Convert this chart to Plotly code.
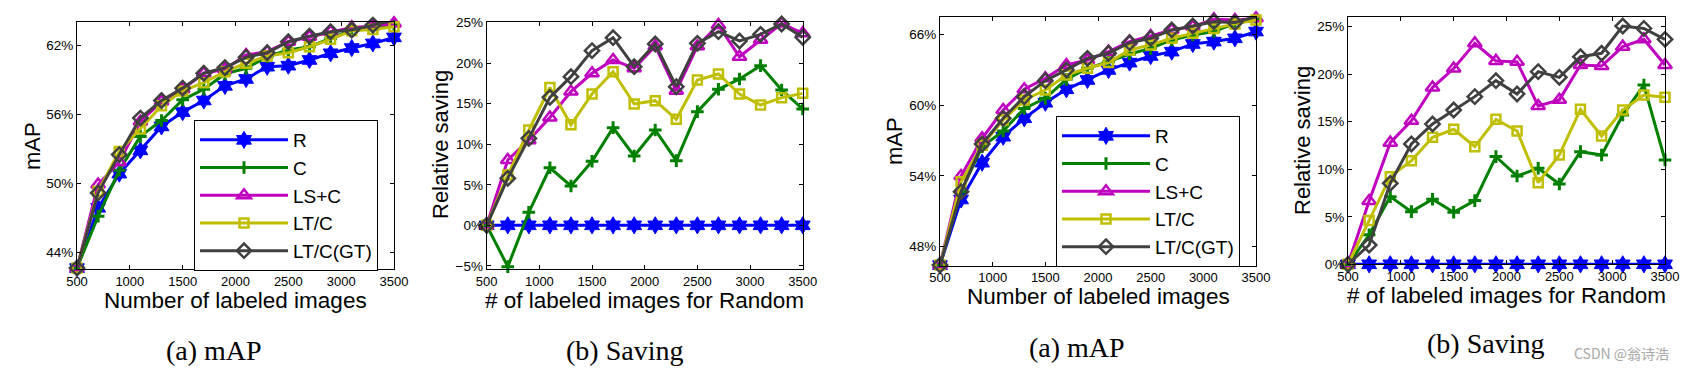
import plotly.graph_objects as go

# ---------------- data ----------------
x_images = [500, 700, 900, 1100, 1300, 1500, 1700, 1900, 2100, 2300, 2500, 2700, 2900, 3100, 3300, 3500]
series_names = ["R", "C", "LS+C", "LT/C", "LT/C(GT)"]

# left pair: mAP (%)
map1_R = [42.6, 47.86, 50.84, 52.87, 54.96, 56.21, 57.22, 58.5, 59.1, 60.17, 60.26, 60.76, 61.34, 61.8, 62.2, 62.73]
map1_C = [42.6, 47.13, 51.13, 54.09, 55.48, 57.28, 58.2, 59.54, 60.03, 61.04, 61.63, 61.91, 62.64, 63.37, 63.51, 63.8]
map1_LS = [42.6, 49.89, 51.86, 55.39, 57.13, 58.2, 59.6, 59.95, 61.19, 61.48, 62.35, 62.78, 63.22, 63.6, 63.71, 63.95]
map1_LT = [42.6, 49.3, 52.78, 54.73, 56.76, 58.06, 58.78, 59.74, 60.47, 61.1, 61.39, 61.91, 62.56, 63.3, 63.42, 63.65]
map1_GT = [42.6, 49.16, 52.5, 55.69, 57.22, 58.3, 59.6, 60.09, 60.99, 61.39, 62.35, 62.84, 63.22, 63.37, 63.8, 64.23]

# left pair: relative saving (%)
save1_R = [0, 0, 0, 0, 0, 0, 0, 0, 0, 0, 0, 0, 0, 0, 0, 0]
save1_C = [0, -5.1, 1.6, 7.1, 4.85, 7.9, 12.05, 8.55, 11.76, 7.98, 14.02, 16.78, 18.05, 19.7, 16.69, 14.35]
save1_LS = [0, 8.06, 10.5, 13.3, 16.5, 18.75, 20.4, 19.37, 22.1, 16.6, 22.1, 24.7, 20.8, 22.9, 24.9, 23.7]
save1_LT = [0, 6.2, 11.76, 17.0, 12.4, 16.2, 18.96, 14.97, 15.38, 13.08, 17.93, 18.67, 16.2, 14.84, 15.75, 16.28]
save1_GT = [0, 5.8, 10.73, 15.79, 18.34, 21.55, 23.15, 19.57, 22.37, 17.1, 22.45, 23.89, 22.74, 23.56, 24.84, 23.19]

# right pair: mAP (%)
map2_R = [46.44, 52.0, 55.12, 57.32, 58.88, 60.2, 61.34, 62.13, 62.98, 63.6, 64.16, 64.53, 65.18, 65.38, 65.66, 66.23]
map2_C = [46.44, 52.66, 56.48, 57.8, 59.72, 60.57, 62.18, 63.12, 63.68, 64.33, 64.81, 65.52, 65.94, 66.23, 66.93, 67.27]
map2_LS = [46.44, 53.99, 57.18, 59.58, 61.34, 62.27, 63.4, 63.82, 64.53, 65.38, 65.86, 66.37, 66.65, 67.27, 67.2, 67.36]
map2_LT = [46.44, 53.5, 56.6, 58.74, 60.43, 61.28, 62.55, 63.12, 63.6, 64.67, 65.1, 65.66, 66.08, 66.5, 66.88, 67.22]
map2_GT = [46.44, 52.66, 56.7, 58.88, 60.71, 62.07, 62.98, 63.96, 64.39, 65.29, 65.66, 66.37, 66.7, 67.07, 66.99, 67.5]

# right pair: relative saving (%)
save2_R = [0, 0, 0, 0, 0, 0, 0, 0, 0, 0, 0, 0, 0, 0, 0, 0]
save2_C = [0, 3.1, 7.12, 5.54, 6.84, 5.47, 6.7, 11.33, 9.29, 10.1, 8.45, 11.85, 11.5, 15.7, 18.86, 10.97]
save2_LS = [0, 6.66, 12.8, 15.1, 18.6, 20.6, 23.25, 21.4, 21.3, 16.65, 17.3, 20.97, 20.86, 22.9, 23.67, 20.97]
save2_LT = [0, 4.6, 9.22, 10.9, 13.36, 14.2, 12.38, 15.25, 14.03, 8.59, 11.5, 16.3, 13.5, 16.23, 17.81, 17.57]
save2_GT = [0, 2.03, 8.52, 12.66, 14.76, 16.23, 17.64, 19.32, 17.92, 20.27, 19.67, 21.84, 22.2, 25.07, 24.82, 23.67]

x_ticks = [500, 1000, 1500, 2000, 2500, 3000, 3500]
map1_ticks = [44, 50, 56, 62]
map2_ticks = [48, 54, 60, 66]
save1_ticks = [-5, 0, 5, 10, 15, 20, 25]
save2_ticks = [0, 5, 10, 15, 20, 25]

# ---------------- styles ----------------
colors = ["#0000ff", "#007f00", "#bf00bf", "#bfbf00", "#404040"]
symbols = ["hexagram", "cross-thin-open", "triangle-up-open", "square-open", "diamond-open"]
msizes = [13, 9, 12, 9, 11]
mlines = [1, 3, 2.5, 2.5, 2.5]

W, H = 1686, 371
SANS = "Liberation Sans, Arial, sans-serif"
SERIF = "Liberation Serif, Times New Roman, serif"


def pct(v):
    return (f"{v}%" if v >= 0 else f"\u2212{-v}%")


panels = [
    ("x", "y", (77, 394), (22, 269), [42.52, 64.07], map1_ticks,
     [map1_R, map1_C, map1_LS, map1_LT, map1_GT], "legend"),
    ("x2", "y2", (486.7, 802.7), (21.7, 269), [-5.39, 25.12], save1_ticks,
     [save1_R, save1_C, save1_LS, save1_LT, save1_GT], None),
    ("x3", "y3", (940, 1256), (16.7, 265.7), [46.39, 67.49], map2_ticks,
     [map2_R, map2_C, map2_LS, map2_LT, map2_GT], "legend2"),
    ("x4", "y4", (1348, 1665), (16.7, 264.3), [0, 26.05], save2_ticks,
     [save2_R, save2_C, save2_LS, save2_LT, save2_GT], None),
]

fig = go.Figure()
layout = dict(
    width=W, height=H, margin=dict(l=0, r=0, t=0, b=0, autoexpand=False),
    paper_bgcolor="white", plot_bgcolor="white",
    font=dict(family=SANS, color="black"),
)

for i, (xa, ya, (x0, x1), (y0, y1), yr, yt, data, leg) in enumerate(panels):
    for k, name in enumerate(series_names):
        tr = dict(
            x=x_images, y=data[k], mode="lines+markers", name=name,
            xaxis=xa, yaxis=ya, cliponaxis=False,
            line=dict(color=colors[k], width=3),
            marker=dict(symbol=symbols[k], size=msizes[k], color=colors[k],
                        line=dict(color=colors[k], width=mlines[k])),
            showlegend=leg is not None,
        )
        if leg is not None:
            tr["legend"] = leg
        fig.add_trace(go.Scatter(**tr))
    xkey = "xaxis" if xa == "x" else "xaxis" + xa[1:]
    ykey = "yaxis" if ya == "y" else "yaxis" + ya[1:]
    layout[xkey] = dict(
        domain=[x0 / W, x1 / W], anchor=ya, range=[500, 3500],
        tickmode="array", tickvals=x_ticks, ticktext=[str(v) for v in x_ticks],
        ticks="inside", ticklen=4, tickwidth=1, tickcolor="black",
        showline=True, linecolor="black", linewidth=1, mirror="ticks",
        showgrid=False, zeroline=False,
        tickfont=dict(family=SANS, size=13, color="black"),
    )
    layout[ykey] = dict(
        domain=[1 - y1 / H, 1 - y0 / H], anchor=xa, range=yr,
        tickmode="array", tickvals=yt, ticktext=[pct(v) for v in yt],
        ticks="inside", ticklen=4, tickwidth=1,
        tickcolor="black", showline=True, linecolor="black", linewidth=1,
        mirror="ticks", showgrid=False, zeroline=False,
        tickfont=dict(family=SANS, size=13.5, color="black"),
    )

legend_style = dict(
    bgcolor="white", bordercolor="black", borderwidth=1,
    font=dict(family=SANS, size=19, color="black"),
    itemwidth=88, xanchor="left", yanchor="top", tracegroupgap=0,
    xref="paper", yref="paper",
)
layout["legend"] = dict(legend_style, x=194 / W, y=1 - 120 / H)
layout["legend2"] = dict(legend_style, x=1056 / W, y=1 - 116 / H)

annotations = []


def ann(text, xpx, ypx, size, family=SANS, angle=0, color="black"):
    annotations.append(dict(
        text=text, x=xpx / W, y=1 - ypx / H, xref="paper", yref="paper",
        showarrow=False, textangle=angle, xanchor="center", yanchor="middle",
        font=dict(family=family, size=size, color=color),
    ))


# axis titles
ann("mAP", 32, 146, 22, angle=-90)
ann("Relative saving", 440, 145, 22, angle=-90)
ann("mAP", 894, 141, 22, angle=-90)
ann("Relative saving", 1302, 141, 22, angle=-90)
ann("Number of labeled images", 235.5, 300, 22.5)
ann("# of labeled images for Random", 644.7, 300, 22.5)
ann("Number of labeled images", 1098, 296, 22.5)
ann("# of labeled images for Random", 1506.5, 295.5, 22.5)
# captions
ann("(a) mAP", 214, 350, 28, family=SERIF)
ann("(b) Saving", 624, 350, 28, family=SERIF)
ann("(a) mAP", 1077, 347, 28, family=SERIF)
ann("(b) Saving", 1485, 343, 28, family=SERIF)
# watermark
ann("CSDN @翁诗浩", 1621, 353, 14, family="Noto Sans CJK SC, sans-serif", color="#a8a8a8")

layout["annotations"] = annotations
fig.update_layout(**layout)
fig.write_html("out.html", config={"displayModeBar": False},
               post_script="document.body.style.margin='0';document.body.style.overflow='hidden';")
